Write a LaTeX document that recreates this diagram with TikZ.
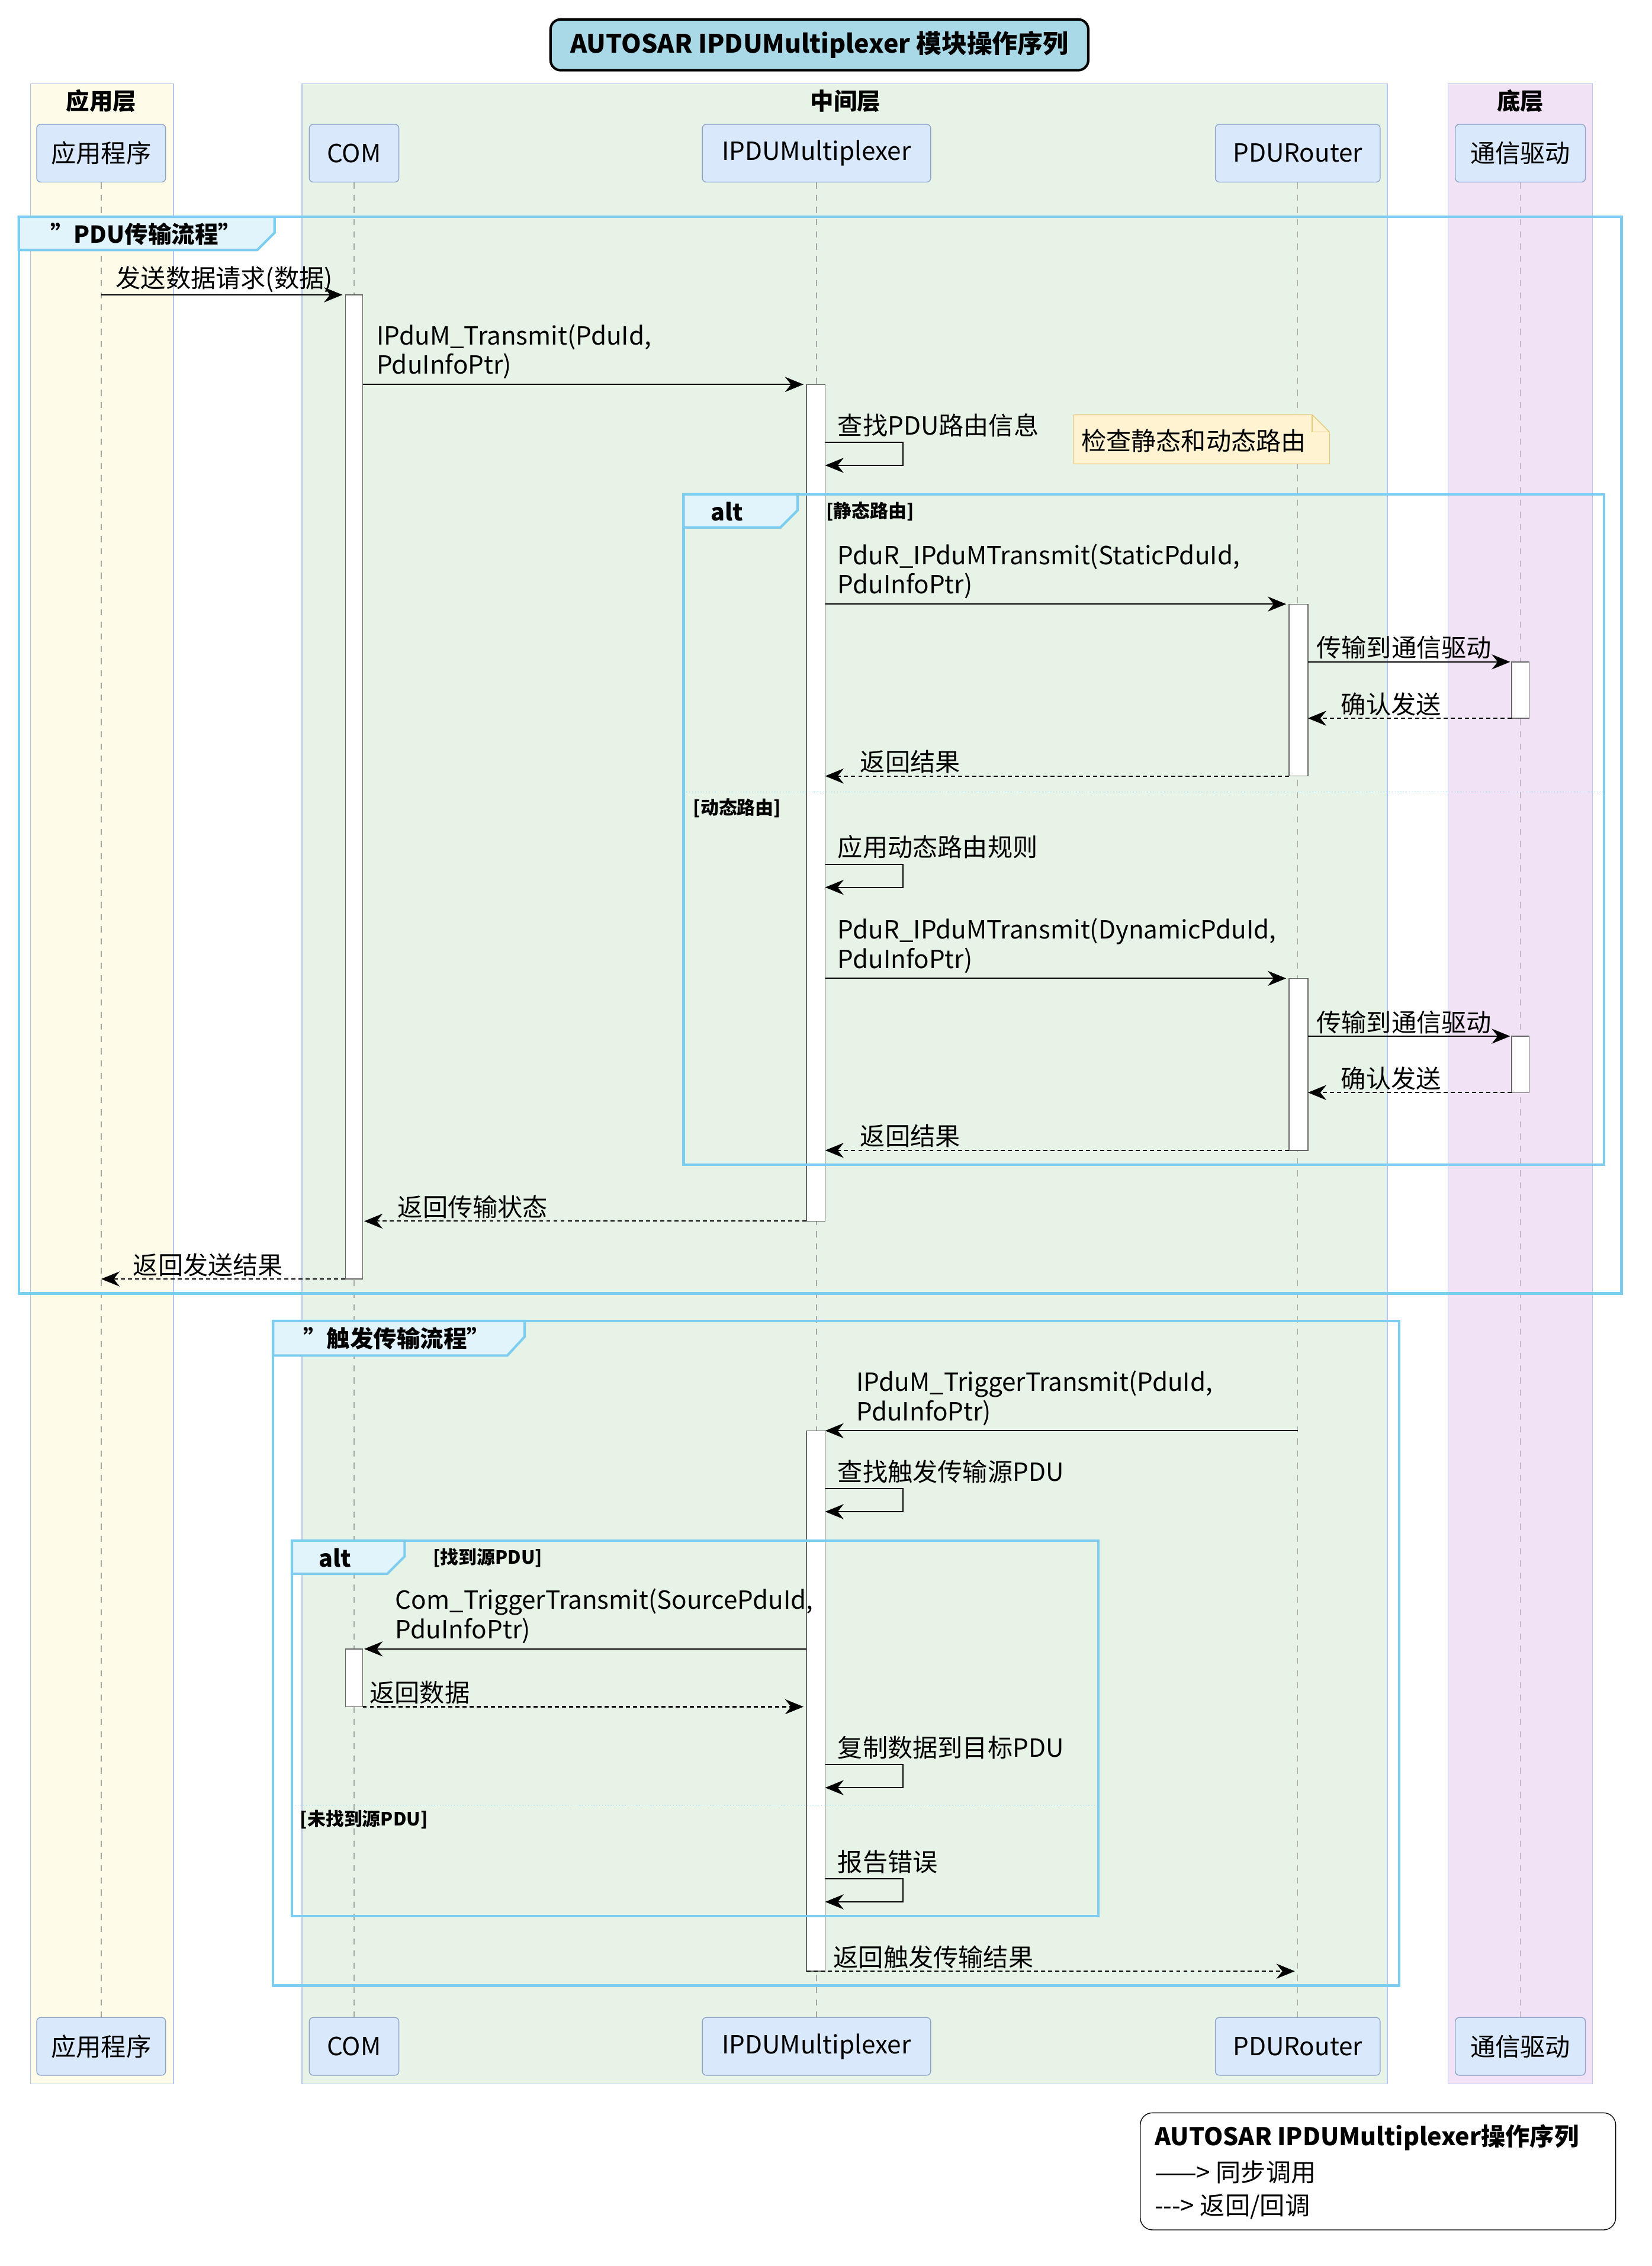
\documentclass[tikz,border=0pt]{standalone}
\usepackage{fontspec}
\setmainfont{Noto Sans CJK SC}
\usetikzlibrary{calc, arrows.meta}
\definecolor{framebl}{HTML}{7CCDF0}
\definecolor{tabbl}{HTML}{E1F4FC}
\definecolor{partbl}{HTML}{DAE8FC}
\definecolor{partln}{HTML}{8FA4C8}
\definecolor{laneln}{HTML}{B4C6EC}
\definecolor{laneye}{HTML}{FEFCE9}
\definecolor{lanegr}{HTML}{E7F3E7}
\definecolor{lanevi}{HTML}{F1E2F5}
\definecolor{notefl}{HTML}{FFF3D2}
\definecolor{noteln}{HTML}{E8C878}
\definecolor{titlefl}{HTML}{A9D8E6}
\begin{document}
\begin{tikzpicture}[x=0.025cm, y=-0.025cm, >={Stealth[length=3.2mm, width=2.6mm]},
  every node/.style={font=\fontsize{12.3}{14.5}\selectfont},
  part/.style={draw=partln, fill=partbl, rounded corners=2pt, minimum height=1cm, inner xsep=4pt},
  life/.style={gray!70, dashed},
  act/.style={draw=gray!80!black, fill=white},
  msg/.style={->, semithick},
  ret/.style={->, semithick, dash pattern=on 2pt off 1.5pt},
  frm/.style={draw=framebl, line width=1.2pt},
  lbl/.style={anchor=south west, inner sep=1pt, align=left},
  guard/.style={anchor=west, inner sep=1pt, font=\fontsize{9}{11}\selectfont\bfseries}]
\useasboundingbox (0,0) rectangle (1143,1568);
\fill[white] (0,0) rectangle (1143,1568);
% lanes
\draw[laneln, fill=laneye] (21,58) rectangle (120,1442);
\draw[laneln, fill=lanegr] (209,58) rectangle (960,1442);
\draw[laneln, fill=lanevi] (1002,58) rectangle (1102,1442);
\node[font=\fontsize{11.5}{13.5}\selectfont\bfseries] (lane1) at (70,70) {应用层};
\node[font=\fontsize{11.5}{13.5}\selectfont\bfseries] (lane2) at (585,70) {中间层};
\node[font=\fontsize{11.5}{13.5}\selectfont\bfseries] (lane3) at (1052,70) {底层};
% title
\node[draw=black, fill=titlefl, line width=1.2pt, rounded corners=5pt, minimum width=9.3cm, minimum height=0.88cm, font=\fontsize{12.5}{14}\selectfont\bfseries] (title) at (567,31) {AUTOSAR IPDUMultiplexer 模块操作序列};
% participants
\node[part, minimum width=2.23cm] (app1) at (70,106) {应用程序};
\node[part, minimum width=1.55cm] (com1) at (245,106) {COM};
\node[part, minimum width=3.95cm] (ipd1) at (565,106) {IPDUMultiplexer};
\node[part, minimum width=2.85cm] (pdr1) at (898,106) {PDURouter};
\node[part, minimum width=2.25cm] (drv1) at (1052,106) {通信驱动};
\node[part, minimum width=2.23cm] (app2) at (70,1416) {应用程序};
\node[part, minimum width=1.55cm] (com2) at (245,1416) {COM};
\node[part, minimum width=3.95cm] (ipd2) at (565,1416) {IPDUMultiplexer};
\node[part, minimum width=2.85cm] (pdr2) at (898,1416) {PDURouter};
\node[part, minimum width=2.25cm] (drv2) at (1052,1416) {通信驱动};
\draw[life] (app1) -- (app2);
\draw[life] (com1) -- (com2);
\draw[life] (ipd1) -- (ipd2);
\draw[life] (pdr1) -- (pdr2);
\draw[life] (drv1) -- (drv2);
% group 1
\draw[frm] (13,150) rectangle (1122,895);
\draw[frm, fill=tabbl] (13,150) -- (190,150) -- (190,161) -- (178,173) -- (13,173) -- cycle;
\node[anchor=west, font=\fontsize{11.5}{13.5}\selectfont\bfseries] (grp1) at (30,162) {\symbol{34}PDU传输流程\symbol{34}};
% activations
\draw[act] (239,204) rectangle (251,885);
\draw[act] (558,266) rectangle (571,845);
\draw[act] (892,418) rectangle (905,537);
\draw[act] (1046,458) rectangle (1058,497);
\draw[act] (892,677) rectangle (905,796);
\draw[act] (1046,717) rectangle (1058,756);
\draw[msg] (app1 |- 0,204) -- ($(com1 |- 0,204)+(-8,0)$) node[lbl, pos=0.05] (m1) {发送数据请求(数据)};
\draw[msg] ($(com1 |- 0,266)+(6,0)$) -- ($(ipd1 |- 0,266)+(-9,0)$);
\node[lbl] (m2) at (259,264) {IPduM\_Transmit(PduId,\\PduInfoPtr)};
\draw[msg] (571,306) -- (625,306) -- (625,322) -- (571,322);
\node[lbl] (m3) at (578,304) {查找PDU路由信息};
\draw[draw=noteln, fill=notefl] (743,287) -- (908,287) -- (920,299) -- (920,321) -- (743,321) -- cycle;
\draw[noteln] (908,287) -- (908,299) -- (920,299);
\node (n1) at (826,305) {检查静态和动态路由};
% alt 1
\draw[frm] (473,342) rectangle (1110,806);
\draw[frm, fill=tabbl] (473,342) -- (552,342) -- (552,353) -- (540,365) -- (473,365) -- cycle;
\node[font=\fontsize{11.5}{13.5}\selectfont\bfseries] (alt1) at (503,354) {alt};
\node[guard] (g1) at (570,354) {[静态路由]};
\draw[framebl, densely dotted] (473,548) -- (1110,548);
\node[guard] (g2) at (478,559) {[动态路由]};
\draw[msg] ($(ipd1 |- 0,418)+(6,0)$) -- ($(pdr1 |- 0,418)+(-8,0)$);
\node[lbl] (m4) at (578,416) {PduR\_IPduMTransmit(StaticPduId,\\PduInfoPtr)};
\draw[msg] ($(pdr1 |- 0,458)+(7,0)$) -- ($(drv1 |- 0,458)+(-7,0)$) node[lbl, pos=0.03] (m5) {传输到通信驱动};
\draw[ret] ($(drv1 |- 0,497)+(-6,0)$) -- ($(pdr1 |- 0,497)+(7,0)$) node[lbl, pos=0.85] (m6) {确认发送};
\draw[ret] ($(pdr1 |- 0,537)+(-6,0)$) -- ($(ipd1 |- 0,537)+(6,0)$) node[lbl, pos=0.93] (m7) {返回结果};
\draw[msg] (571,598) -- (625,598) -- (625,614) -- (571,614);
\node[lbl] (m8) at (578,596) {应用动态路由规则};
\draw[msg] ($(ipd1 |- 0,677)+(6,0)$) -- ($(pdr1 |- 0,677)+(-8,0)$);
\node[lbl] (m9) at (578,675) {PduR\_IPduMTransmit(DynamicPduId,\\PduInfoPtr)};
\draw[msg] ($(pdr1 |- 0,717)+(7,0)$) -- ($(drv1 |- 0,717)+(-7,0)$) node[lbl, pos=0.03] (m10) {传输到通信驱动};
\draw[ret] ($(drv1 |- 0,756)+(-6,0)$) -- ($(pdr1 |- 0,756)+(7,0)$) node[lbl, pos=0.85] (m11) {确认发送};
\draw[ret] ($(pdr1 |- 0,796)+(-6,0)$) -- ($(ipd1 |- 0,796)+(6,0)$) node[lbl, pos=0.93] (m12) {返回结果};
\draw[ret] ($(ipd1 |- 0,845)+(-7,0)$) -- ($(com1 |- 0,845)+(7,0)$) node[lbl, pos=0.93] (m13) {返回传输状态};
\draw[ret] ($(com1 |- 0,885)+(-6,0)$) -- (app1 |- 0,885) node[lbl, pos=0.88] (m14) {返回发送结果};
% group 2
\draw[frm] (189,914) rectangle (968,1374);
\draw[frm, fill=tabbl] (189,914) -- (363,914) -- (363,925) -- (351,938) -- (189,938) -- cycle;
\node[anchor=west, font=\fontsize{11.5}{13.5}\selectfont\bfseries] (grp2) at (205,926) {\symbol{34}触发传输流程\symbol{34}};
\draw[act] (558,990) rectangle (571,1364);
\draw[act] (239,1141) rectangle (251,1181);
\draw[msg] (pdr1 |- 0,990) -- ($(ipd1 |- 0,990)+(6,0)$);
\node[lbl] (m15) at (591,988) {IPduM\_TriggerTransmit(PduId,\\PduInfoPtr)};
\draw[msg] (571,1030) -- (625,1030) -- (625,1046) -- (571,1046);
\node[lbl] (m16) at (578,1028) {查找触发传输源PDU};
% alt 2
\draw[frm] (202,1066) rectangle (760,1326);
\draw[frm, fill=tabbl] (202,1066) -- (280,1066) -- (280,1077) -- (268,1089) -- (202,1089) -- cycle;
\node[font=\fontsize{11.5}{13.5}\selectfont\bfseries] (alt2) at (232,1078) {alt};
\node[guard] (g3) at (298,1078) {[找到源PDU]};
\draw[framebl, densely dotted] (202,1249) -- (760,1249);
\node[guard] (g4) at (206,1259) {[未找到源PDU]};
\draw[msg] ($(ipd1 |- 0,1141)+(-7,0)$) -- ($(com1 |- 0,1141)+(7,0)$);
\node[lbl] (m17) at (272,1139) {Com\_TriggerTransmit(SourcePduId,\\PduInfoPtr)};
\draw[ret] ($(com1 |- 0,1181)+(6,0)$) -- ($(ipd1 |- 0,1181)+(-9,0)$) node[lbl, pos=0.01] (m18) {返回数据};
\draw[msg] (571,1221) -- (625,1221) -- (625,1237) -- (571,1237);
\node[lbl] (m19) at (578,1219) {复制数据到目标PDU};
\draw[msg] (571,1300) -- (625,1300) -- (625,1316) -- (571,1316);
\node[lbl] (m20) at (578,1298) {报告错误};
\draw[ret] ($(ipd1 |- 0,1364)+(-7,0)$) -- ($(pdr1 |- 0,1364)+(-2,0)$) node[lbl, pos=0.05] (m21) {返回触发传输结果};
% legend
\draw[rounded corners=6pt] (789,1462) rectangle (1118,1543);
\node[anchor=west, font=\fontsize{12}{14}\selectfont\bfseries] (leg1) at (794,1479) {AUTOSAR IPDUMultiplexer操作序列};
\node[anchor=west] (leg2) at (794,1503) {——> 同步调用};
\node[anchor=west] (leg3) at (794,1527) {{-}{-}{-}> 返回/回调};
\end{tikzpicture}
\end{document}
